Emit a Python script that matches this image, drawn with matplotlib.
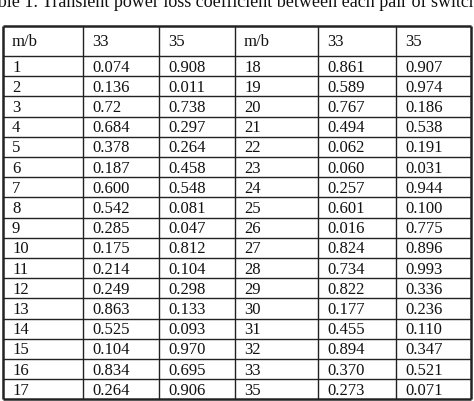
import matplotlib
matplotlib.use("Agg")
import matplotlib.pyplot as plt

title = "Table 1. Transient power loss coefficient between each pair of switches"
header = ["m/b", "33", "35", "m/b", "33", "35"]
left_ids = [str(i) for i in range(1, 18)]
left_33 = ["0.074","0.136","0.72","0.684","0.378","0.187","0.600","0.542","0.285","0.175","0.214","0.249","0.863","0.525","0.104","0.834","0.264"]
left_35 = ["0.908","0.011","0.738","0.297","0.264","0.458","0.548","0.081","0.047","0.812","0.104","0.298","0.133","0.093","0.970","0.695","0.906"]
right_ids = ["18","19","20","21","22","23","24","25","26","27","28","29","30","31","32","33","35"]
right_33 = ["0.861","0.589","0.767","0.494","0.062","0.060","0.257","0.601","0.016","0.824","0.734","0.822","0.177","0.455","0.894","0.370","0.273"]
right_35 = ["0.907","0.974","0.186","0.538","0.191","0.031","0.944","0.100","0.775","0.896","0.993","0.336","0.236","0.110","0.347","0.521","0.071"]

fig = plt.figure(figsize=(4.74, 4.02), dpi=100)
ax = fig.add_axes([0, 0, 1, 1])
ax.set_xlim(0, 474)
ax.set_ylim(402, 0)
ax.axis("off")

font = dict(family="Liberation Serif", fontsize=12, color="#111111")
cols = [3, 83, 159, 235, 318, 396, 471]
top = 27
header_h = 30
row_h = 20.2
rows = [header] + [list(r) for r in zip(left_ids, left_33, left_35, right_ids, right_33, right_35)]
ys = [top, top + header_h] + [top + header_h + row_h * (i + 1) for i in range(len(rows) - 1)]

ax.text(237, 7, title, ha="center", va="baseline", family="Liberation Serif", fontsize=13, color="#111111")

for y in ys:
    lw = 1.8 if y in (ys[0], ys[-1]) else 1.0
    ax.plot([cols[0], cols[-1]], [y, y], color="#222222", lw=lw, solid_capstyle="butt")
for i, x in enumerate(cols):
    lw = 1.8 if i in (0, len(cols) - 1) else 1.0
    ax.plot([x, x], [ys[0], ys[-1]], color="#222222", lw=lw, solid_capstyle="butt")

for r, row in enumerate(rows):
    yc = (ys[r] + ys[r + 1]) / 2
    for c, val in enumerate(row):
        ax.text(cols[c] + 9, yc + 0.5, val, ha="left", va="center", **font)

fig.savefig("out.png", dpi=100)
